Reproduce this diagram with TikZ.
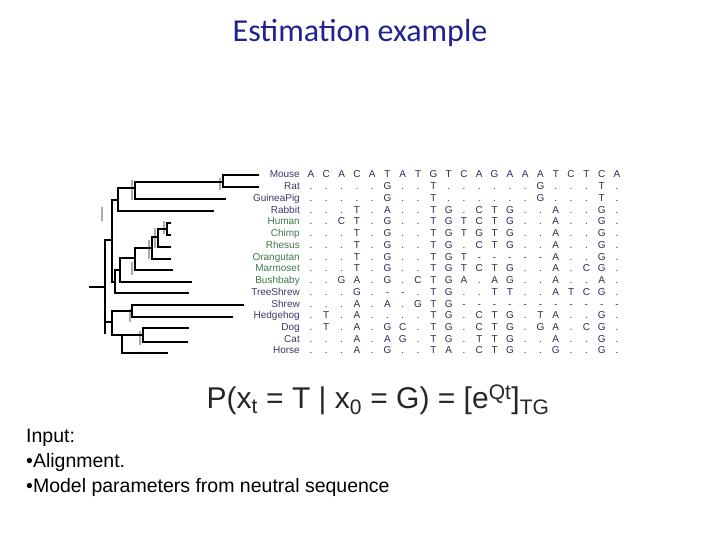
\documentclass[tikz,border=0pt]{standalone}
\usepackage{fontspec}
\setmainfont{Liberation Sans}
\newfontfamily\titlefont{Carlito}
\definecolor{titleblue}{HTML}{1F2390}
\definecolor{spblue}{HTML}{3A3A6A}
\definecolor{spgreen}{HTML}{3F7A4A}
\definecolor{basecol}{HTML}{2A2A55}
\tikzset{
  species/.style={anchor=base east,inner sep=0pt,font=\fontsize{10}{10}\selectfont},
  base/.style={anchor=base,inner sep=0pt,text=basecol,font=\fontsize{10}{10}\selectfont},
  branch/.style={line width=2pt,line cap=rect},
  shade/.style={line width=2.6pt,gray!65},
  note/.style={anchor=base west,inner sep=0pt,font=\fontsize{19.5}{19.5}\selectfont},
}
\begin{document}
\begin{tikzpicture}[x=1pt,y=-1pt]
	\useasboundingbox (0,0) rectangle (720,540);
	% Title
	\node[font=\titlefont\fontsize{32}{32}\selectfont,text=titleblue] (title) at (360,33) {Estimation example};

	% Alignment rows
	\foreach \name/\col/\seq [count=\r from 0] in {
		Mouse/spblue/{A,C,A,C,A,T,A,T,G,T,C,A,G,A,A,A,T,C,T,C,A},
		Rat/spblue/{.,.,.,.,.,G,.,.,T,.,.,.,.,.,.,G,.,.,.,T,.},
		GuineaPig/spblue/{.,.,.,.,.,G,.,.,T,.,.,.,.,.,.,G,.,.,.,T,.},
		Rabbit/spblue/{.,.,.,T,.,A,.,.,T,G,.,C,T,G,.,.,A,.,.,G,.},
		Human/spgreen/{.,.,C,T,.,G,.,.,T,G,T,C,T,G,.,.,A,.,.,G,.},
		Chimp/spgreen/{.,.,.,T,.,G,.,.,T,G,T,G,T,G,.,.,A,.,.,G,.},
		Rhesus/spgreen/{.,.,.,T,.,G,.,.,T,G,.,C,T,G,.,.,A,.,.,G,.},
		Orangutan/spgreen/{.,.,.,T,.,G,.,.,T,G,T,-,-,-,-,-,A,.,.,G,.},
		Marmoset/spgreen/{.,.,.,T,.,G,.,.,T,G,T,C,T,G,.,.,A,.,C,G,.},
		Bushbaby/spgreen/{.,.,G,A,.,G,.,C,T,G,A,.,A,G,.,.,A,.,.,A,.},
		TreeShrew/spblue/{.,.,.,G,.,-,-,.,T,G,.,.,T,T,.,.,A,T,C,G,.},
		Shrew/spblue/{.,.,.,A,.,A,.,G,T,G,-,-,-,-,-,-,-,-,-,-,-},
		Hedgehog/spblue/{.,T,.,A,.,.,.,.,T,G,.,C,T,G,.,T,A,.,.,G,.},
		Dog/spblue/{.,T,.,A,.,G,C,.,T,G,.,C,T,G,.,G,A,.,C,G,.},
		Cat/spblue/{.,.,.,A,.,A,G,.,T,G,.,T,T,G,.,.,A,.,.,G,.},
		Horse/spblue/{.,.,.,A,.,G,.,.,T,A,.,C,T,G,.,.,G,.,.,G,.}}
	{
		\node[species,text=\col] (lab-\r) at (300,{178+11.73*\r}) {\name};
		\foreach \b [count=\i from 0] in \seq
			\node[base] (b-\r-\i) at ({311+15.3*\i},{178+11.73*\r}) {\b};
	}

	% Tree: shadows
	\draw[shade] (220,178) -- (220,190);
	\draw[shade] (132,180) -- (132,200);
	\draw[shade] (102,207) -- (102,221);
	\draw[shade] (164,221) -- (164,234);
	\draw[shade] (155,228) -- (155,248);
	\draw[shade] (149,240) -- (149,259);
	\draw[shade] (132,262) -- (132,275);
	\draw[shade] (130,309) -- (130,322);
	\draw[shade] (140,331) -- (140,345);

	% Tree: rodents and rabbit
	\draw[branch] (90,287) -- (105,287);
	\draw[branch] (105,240) -- (105,333);
	\draw[branch] (105,240) -- (112,240);
	\draw[branch] (112,200) -- (112,282);
	\draw[branch] (112,200) -- (118,200);
	\draw[branch] (118,188) -- (118,211) -- (213,211);
	\draw[branch] (118,188) -- (135,188);
	\draw[branch] (135,182) -- (135,199) -- (225,199);
	\draw[branch] (135,182) -- (223,182);
	\draw[branch] (223,175) -- (223,187);
	\draw[branch] (223,175) -- (258,175);
	\draw[branch] (223,187) -- (258,187);
	% Tree: primates and tree shrew
	\draw[branch] (112,282) -- (115,282);
	\draw[branch] (115,270) -- (115,293) -- (188,293);
	\draw[branch] (115,270) -- (120,270);
	\draw[branch] (120,258) -- (120,282) -- (191,282);
	\draw[branch] (120,258) -- (135,258);
	\draw[branch] (135,248) -- (135,270) -- (172,270);
	\draw[branch] (135,248) -- (152,248);
	\draw[branch] (152,237) -- (152,259) -- (170,259);
	\draw[branch] (152,237) -- (158,237);
	\draw[branch] (158,229) -- (158,247) -- (170,247);
	\draw[branch] (158,229) -- (167,229);
	\draw[branch] (167,223) -- (167,235);
	\draw[branch] (167,223) -- (170,223);
	\draw[branch] (167,235) -- (170,235);
	% Tree: laurasiatheria
	\draw[branch] (105,322) -- (112,322);
	\draw[branch] (112,311) -- (112,335);
	\draw[branch] (112,311) -- (132,311);
	\draw[branch] (132,305) -- (132,317) -- (232,317);
	\draw[branch] (132,305) -- (243,305);
	\draw[branch] (112,335) -- (122,335);
	\draw[branch] (122,335) -- (122,353) -- (167,353);
	\draw[branch] (122,335) -- (143,335);
	\draw[branch] (143,328) -- (143,342) -- (187,342);
	\draw[branch] (143,328) -- (188,328);

	% Formula
	\node[font=\fontsize{30}{30}\selectfont,text=black!85] (formula) at (378,400)
		{P(x\textsubscript{t} = T | x\textsubscript{0} = G) = [e\textsuperscript{Qt}]\textsubscript{TG}};

	% Notes
	\node[note] (note1) at (26,442) {Input:};
	\node[note] (note2) at (26,467) {\textbullet Alignment.};
	\node[note] (note3) at (26,492) {\textbullet Model parameters from neutral sequence};
\end{tikzpicture}
\end{document}
